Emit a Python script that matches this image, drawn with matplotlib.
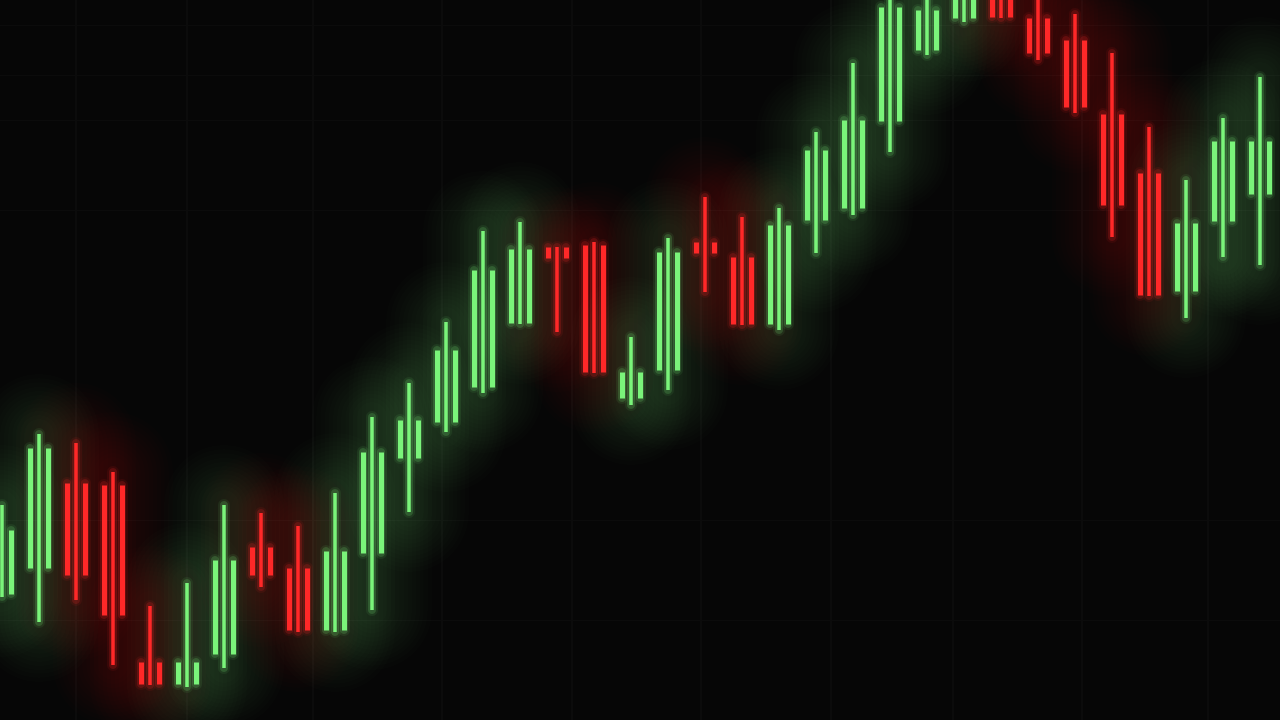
import numpy as np
import matplotlib
matplotlib.use("Agg")
import matplotlib.pyplot as plt

# candle data (price units), one entry per candle, left to right
opens = [126, 152, 237, 235, 58, 36, 66, 173, 152, 90, 167, 262, 298, 333, 397,
         473, 475, 322, 350, 478, 463, 396, 500, 512, 599, 670, 702, 750, 702,
         680, 606, 547, 429, 499, 526]
closes = [190, 272, 145, 105, 36, 58, 160, 145, 90, 169, 268, 300, 370, 450, 471,
          462, 348, 348, 468, 467, 396, 495, 570, 600, 713, 710, 740, 703, 667,
          613, 515, 425, 497, 579, 579]
highs = [215, 286, 277, 248, 114, 137, 215, 207, 194, 227, 303, 337, 398, 489, 498,
         473, 478, 383, 482, 523, 503, 512, 588, 657, 730, 735, 750, 760, 725,
         706, 667, 593, 540, 602, 643]
lows = [123, 98, 120, 55, 35, 33, 52, 133, 88, 88, 110, 208, 288, 327, 396,
        388, 347, 315, 330, 428, 395, 390, 467, 505, 568, 665, 698, 702, 660,
        607, 483, 424, 402, 463, 455]

GREEN = "#7af47a"
RED = "#ff2828"
BG = "#060606"

x = np.arange(len(opens))
o = np.array(opens)
c = np.array(closes)
hi = np.array(highs)
lo = np.array(lows)
up = c >= o

fig = plt.figure(figsize=(12.8, 7.2), dpi=100, facecolor=BG)
ax = fig.add_axes([0, 0, 1, 1], facecolor=BG)
ax.set_xlim(-0.054, 34.54)
ax.set_ylim(0, 720)
ax.axis("off")

# faint background grid
for gx in [2.0, 5.0, 8.4, 11.9, 15.4, 18.9, 22.4, 25.7, 29.2, 32.6]:
    ax.axvline(gx, color="#0d0d0d", lw=1.2, zorder=0)
for gy in [695, 645, 600, 510, 200, 100]:
    ax.axhline(gy, color="#0b0b0b", lw=1.0, zorder=0)

off = 0.245  # side bars offset (index units)
px = 0.72    # points per pixel at 100 dpi

for is_up, col in [(True, GREEN), (False, RED)]:
    m = up == is_up
    body_lo = np.minimum(o, c)[m]
    body_hi = np.maximum(o, c)[m]
    # soft halo around the whole candle (many faint layers -> smooth falloff)
    for w in np.linspace(120, 30, 12):
        ax.vlines(x[m], lo[m], hi[m], colors=col, lw=w * px, alpha=0.01,
                  capstyle="round", zorder=1)
    # tight glow + core bars
    for xs, y0, y1, cw in [(x[m], lo[m], hi[m], 3.5),
                           (x[m] - off, body_lo, body_hi, 5),
                           (x[m] + off, body_lo, body_hi, 5)]:
        ax.vlines(xs, y0, y1, colors=col, lw=12 * px, alpha=0.08,
                  capstyle="round", zorder=2)
        ax.vlines(xs, y0, y1, colors=col, lw=8 * px, alpha=0.18,
                  capstyle="round", zorder=2)
        ax.vlines(xs, y0, y1, colors=col, lw=cw * px, zorder=3)

fig.savefig("out.png", dpi=100, facecolor=BG)
